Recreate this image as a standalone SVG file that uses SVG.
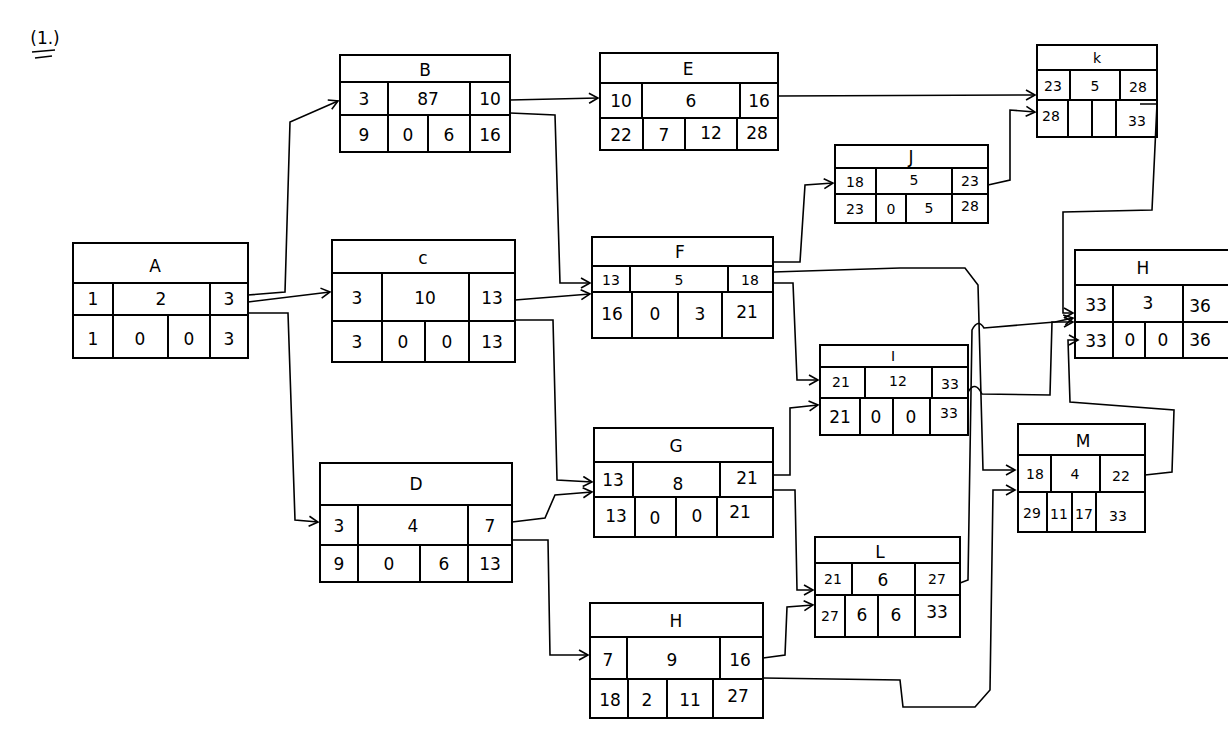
<svg xmlns="http://www.w3.org/2000/svg" width="1228" height="745" viewBox="0 0 1228 745">
<style>
.b{fill:none;stroke:#000;stroke-width:2}
.c{fill:none;stroke:#000;stroke-width:1.6}
text{font-family:"DejaVu Sans",sans-serif;font-size:17px;text-anchor:middle;dominant-baseline:central;fill:#000}
.s{font-size:14px}
</style>
<defs><marker id="ar" markerWidth="12" markerHeight="12" refX="10" refY="6" orient="auto" markerUnits="userSpaceOnUse"><path d="M1,1 L10,6 L1,11" fill="none" stroke="#000" stroke-width="1.6"/></marker></defs>
<rect width="1228" height="745" fill="#fff"/>
<g id="label"><text x="45" y="38" font-size="15">(1.)</text><path class="c" d="M32,52 L55,50 M35,58 L52,56"/></g>
<g id="connectors" class="c">
<path marker-end="url(#ar)" d="M248,295 L285,292 L290,122 L338,101"/>
<path marker-end="url(#ar)" d="M248,302 L330,292"/>
<path marker-end="url(#ar)" d="M248,313 L288,313 L295,520 L318,522"/>
<path marker-end="url(#ar)" d="M510,100 L598,98"/>
<path marker-end="url(#ar)" d="M510,113 L555,115 L560,283 L590,283"/>
<path marker-end="url(#ar)" d="M515,300 L590,294"/>
<path marker-end="url(#ar)" d="M515,320 L553,320 L557,480 L592,482"/>
<path marker-end="url(#ar)" d="M512,522 L545,518 L555,495 L592,492"/>
<path marker-end="url(#ar)" d="M512,540 L548,540 L550,655 L588,655"/>
<path marker-end="url(#ar)" d="M778,96 L1035,95"/>
<path marker-end="url(#ar)" d="M988,185 L1010,180 L1010,110 L1035,112"/>
<path marker-end="url(#ar)" d="M773,262 L800,262 L805,185 L833,183"/>
<path marker-end="url(#ar)" d="M773,272 L900,268 L965,268 L978,285 L983,470 L1015,470"/>
<path marker-end="url(#ar)" d="M773,283 L793,283 L797,380 L818,380"/>
<path marker-end="url(#ar)" d="M773,475 L790,475 L790,408 L818,405"/>
<path marker-end="url(#ar)" d="M773,490 L795,490 L797,590 L813,590"/>
<path marker-end="url(#ar)" d="M763,658 L785,655 L787,607 L813,605"/>
<path marker-end="url(#ar)" d="M763,678 L900,680 L903,707 L975,707 L990,690 L993,490 L1015,490"/>
<path marker-end="url(#ar)" d="M960,583 L968,580 L972,330 Q978,318 984,328 L1055,322 L1073,318"/>
<path marker-end="url(#ar)" d="M968,392 Q975,380 982,394 L1050,395 L1052,322 L1073,322"/>
<path marker-end="url(#ar)" d="M1140,104 L1157,104 L1152,210 L1063,212 L1063,313 L1073,313"/>
<path marker-end="url(#ar)" d="M1145,475 L1172,472 L1174,410 L1070,402 L1068,340 L1078,340"/>
</g>
<g id="A" class="b"><rect x="73" y="243" width="175" height="115"/><path d="M73,283H248M73,315H248M113,283V358M210,283V358M168,315V358"/></g>
<g id="B" class="b"><rect x="340" y="55" width="170" height="97"/><path d="M340,82H510M340,115H510M388,82V152M470,82V152M428,115V152"/></g>
<g id="C" class="b"><rect x="332" y="240" width="183" height="122"/><path d="M332,273H515M332,321H515M382,273V362M469,273V362M425,321V362"/></g>
<g id="D" class="b"><rect x="320" y="463" width="192" height="119"/><path d="M320,505H512M320,545H512M358,505V582M468,505V582M420,545V582"/></g>
<g id="E" class="b"><rect x="600" y="53" width="178" height="97"/><path d="M600,83H778M600,118H778M642,83V118M740,83V118M643,118V150M685,118V150M737,118V150"/></g>
<g id="F" class="b"><rect x="592" y="237" width="181" height="101"/><path d="M592,266H773M592,292H773M630,266V292M728,266V292M632,292V338M678,292V338M722,292V338"/></g>
<g id="J" class="b"><rect x="835" y="145" width="153" height="78"/><path d="M835,168H988M835,194H988M876,168V223M952,168V223M906,194V223"/></g>
<g id="K" class="b"><rect x="1037" y="45" width="120" height="92"/><path d="M1037,70H1157M1037,100H1157M1070,70V100M1120,70V100M1068,100V137M1092,100V137M1116,100V137"/></g>
<g id="N" class="b"><rect x="1075" y="250" width="160" height="108"/><path d="M1075,285H1228M1075,322H1228M1113,285V358M1183,285V358M1145,322V358"/></g>
<g id="I" class="b"><rect x="820" y="345" width="148" height="90"/><path d="M820,367H968M820,398H968M865,367V398M932,367V398M860,398V435M893,398V435M930,398V435"/></g>
<g id="G" class="b"><rect x="594" y="428" width="179" height="109"/><path d="M594,462H773M594,497H773M633,462V497M720,462V497M635,497V537M676,497V537M717,497V537"/></g>
<g id="M" class="b"><rect x="1018" y="424" width="127" height="108"/><path d="M1018,455H1145M1018,492H1145M1051,455V492M1100,455V492M1047,492V532M1072,492V532M1096,492V532"/></g>
<g id="L" class="b"><rect x="815" y="537" width="145" height="100"/><path d="M815,563H960M815,595H960M852,563V595M915,563V595M845,595V637M878,595V637M915,595V637"/></g>
<g id="Hb" class="b"><rect x="590" y="603" width="173" height="115"/><path d="M590,637H763M590,679H763M627,637V679M720,637V679M628,679V718M667,679V718M713,679V718"/></g>
<g id="texts">
<text x="155" y="266">A</text><text x="93" y="299">1</text><text x="161" y="299">2</text><text x="229" y="299">3</text><text x="93" y="339">1</text><text x="140" y="339">0</text><text x="189" y="339">0</text><text x="229" y="339">3</text>
<text x="425" y="70">B</text><text x="364" y="99">3</text><text x="428" y="99">87</text><text x="490" y="99">10</text><text x="364" y="135">9</text><text x="408" y="135">0</text><text x="449" y="135">6</text><text x="490" y="135">16</text>
<text x="423" y="258">c</text><text x="357" y="298">3</text><text x="425" y="298">10</text><text x="492" y="298">13</text><text x="357" y="342">3</text><text x="403" y="342">0</text><text x="447" y="342">0</text><text x="492" y="342">13</text>
<text x="416" y="484">D</text><text x="339" y="526">3</text><text x="413" y="526">4</text><text x="490" y="526">7</text><text x="339" y="564">9</text><text x="389" y="564">0</text><text x="444" y="564">6</text><text x="490" y="564">13</text>
<text x="688" y="69">E</text><text x="621" y="101">10</text><text x="691" y="101">6</text><text x="759" y="101">16</text><text x="621" y="135">22</text><text x="664" y="135">7</text><text x="711" y="133">12</text><text x="757" y="133">28</text>
<text x="680" y="252">F</text><text x="611" y="280" class="s">13</text><text x="679" y="280" class="s">5</text><text x="750" y="280" class="s">18</text><text x="612" y="314">16</text><text x="655" y="314">0</text><text x="700" y="314">3</text><text x="747" y="312">21</text>
<text x="911" y="157">J</text><text x="855" y="182" class="s">18</text><text x="914" y="180" class="s">5</text><text x="970" y="181" class="s">23</text><text x="855" y="209" class="s">23</text><text x="891" y="209" class="s">0</text><text x="929" y="208" class="s">5</text><text x="970" y="206" class="s">28</text>
<text x="1097" y="58" class="s">k</text><text x="1053" y="86" class="s">23</text><text x="1095" y="86" class="s">5</text><text x="1138" y="87" class="s">28</text><text x="1051" y="116" class="s">28</text><text x="1137" y="121" class="s">33</text>
<text x="1143" y="268">H</text><text x="1096" y="305">33</text><text x="1148" y="303">3</text><text x="1200" y="306">36</text><text x="1096" y="341">33</text><text x="1130" y="340">0</text><text x="1163" y="340">0</text><text x="1200" y="340">36</text>
<text x="893" y="356" class="s">I</text><text x="841" y="382" class="s">21</text><text x="898" y="381" class="s">12</text><text x="950" y="384" class="s">33</text><text x="840" y="417">21</text><text x="876" y="417">0</text><text x="911" y="417">0</text><text x="949" y="413" class="s">33</text>
<text x="676" y="446">G</text><text x="613" y="480">13</text><text x="678" y="484">8</text><text x="747" y="478">21</text><text x="616" y="516">13</text><text x="655" y="518">0</text><text x="697" y="516">0</text><text x="740" y="512">21</text>
<text x="1083" y="441">M</text><text x="1035" y="474" class="s">18</text><text x="1075" y="474" class="s">4</text><text x="1121" y="476" class="s">22</text><text x="1032" y="513" class="s">29</text><text x="1059" y="514" class="s">11</text><text x="1084" y="514" class="s">17</text><text x="1118" y="516" class="s">33</text>
<text x="880" y="552">L</text><text x="833" y="579" class="s">21</text><text x="883" y="580">6</text><text x="937" y="579" class="s">27</text><text x="830" y="616" class="s">27</text><text x="862" y="615">6</text><text x="896" y="615">6</text><text x="937" y="612">33</text>
<text x="676" y="621">H</text><text x="608" y="660">7</text><text x="672" y="660">9</text><text x="740" y="660">16</text><text x="610" y="700">18</text><text x="647" y="700">2</text><text x="690" y="700">11</text><text x="738" y="696">27</text>
</g>
</svg>
